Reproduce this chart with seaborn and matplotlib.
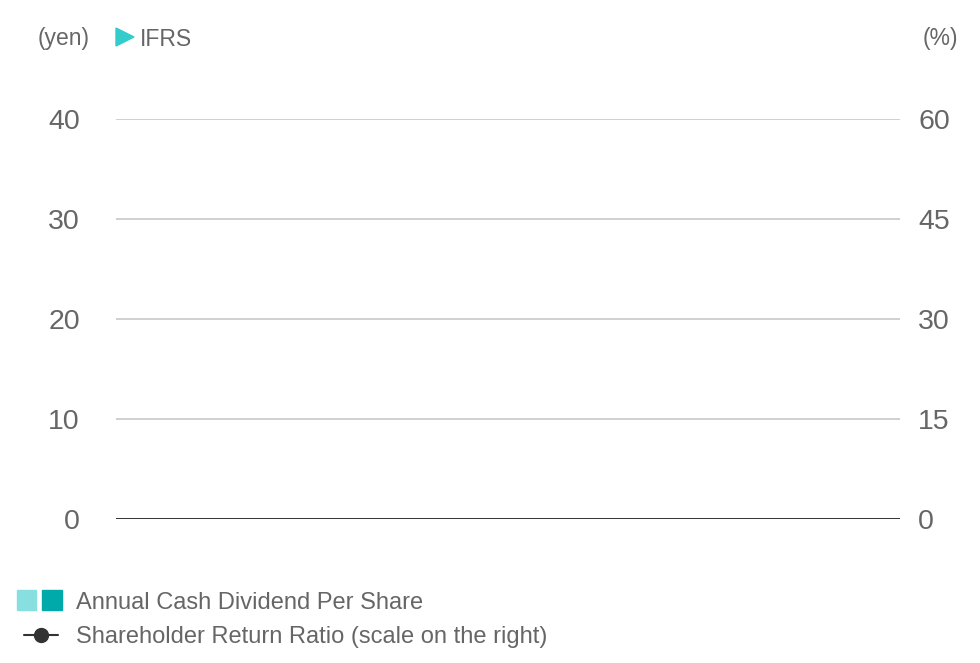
import matplotlib
matplotlib.use("Agg")
import matplotlib.pyplot as plt
from matplotlib.patches import Rectangle, Polygon
from matplotlib.lines import Line2D
import seaborn as sns
import pandas as pd

# the reference chart shows an empty IFRS period: no bars, no line points
years = []
dividend_interim = []
dividend_year_end = []
return_ratio = []

yen_ticks = [0, 10, 20, 30, 40]
pct_ticks = [0, 15, 30, 45, 60]

LIGHT = "#88DFDF"
DARK = "#00AAAA"
TEAL = "#33CCCC"
TXT = "#666666"

sns.set_style("white")
plt.rcParams["font.family"] = ["Liberation Sans", "DejaVu Sans"]

W, H = 980, 663
fig = plt.figure(figsize=(W / 100, H / 100), dpi=100)


def fx(x):
    return x / W


def fy(y):
    return 1 - y / H


ax = fig.add_axes([fx(116), fy(519), fx(900) - fx(116), fy(119) - fy(519)])
ax2 = ax.twinx()

if years:
    df = pd.DataFrame({"year": years, "interim": dividend_interim,
                       "year_end": dividend_year_end, "ratio": return_ratio})
    sns.barplot(data=df, x="year", y="interim", color=LIGHT, ax=ax)
    sns.lineplot(data=df, x="year", y="ratio", color="#333333", marker="o", ax=ax2)
else:
    ax.set_xlim(0, 1)

ax.set_ylim(0, 40)
ax2.set_ylim(0, 60)
ax.set_yticks(yen_ticks)
ax2.set_yticks(pct_ticks)
ax.set_xticks([])
ax.set_xlabel("")
ax.set_ylabel("")
ax2.set_ylabel("")

for t in yen_ticks[1:]:
    ax.axhline(t, color="#c8c8c8", lw=1.2, zorder=0)
ax.axhline(0, color="#333333", lw=1.4, zorder=1)

for a in (ax, ax2):
    for s in a.spines.values():
        s.set_visible(False)
ax.tick_params(axis="y", length=0, pad=26, labelsize=20.5, labelcolor=TXT)
ax2.tick_params(axis="y", length=0, pad=13, labelsize=20.5, labelcolor=TXT)

# unit labels and IFRS marker
fig.text(fx(38), fy(39), "(yen)", fontsize=16.5, color=TXT, ha="left", va="center")
fig.text(fx(958), fy(39), "(%)", fontsize=16.5, color=TXT, ha="right", va="center")
fig.add_artist(Polygon([(fx(116), fy(28)), (fx(116), fy(46)), (fx(134), fy(37))],
                       closed=True, color=TEAL, transform=fig.transFigure))
fig.text(fx(140), fy(39), "IFRS", fontsize=16.5, color=TXT, ha="left", va="center")

# legend
fig.add_artist(Rectangle((fx(17), fy(610)), fx(19), fy(590) - fy(610),
                         color=LIGHT, transform=fig.transFigure))
fig.add_artist(Rectangle((fx(42), fy(610)), fx(20), fy(590) - fy(610),
                         color=DARK, transform=fig.transFigure))
fig.text(fx(76), fy(603), "Annual Cash Dividend Per Share", fontsize=17,
         color=TXT, ha="left", va="center")
fig.add_artist(Line2D([fx(24), fx(58)], [fy(635), fy(635)], color="#333333", lw=1.5,
                      transform=fig.transFigure))
fig.add_artist(Line2D([fx(41)], [fy(635)], marker="o", markersize=10, color="#333333",
                      transform=fig.transFigure))
fig.text(fx(76), fy(637), "Shareholder Return Ratio (scale on the right)", fontsize=17,
         color=TXT, ha="left", va="center")

fig.savefig("out.png", dpi=100)
